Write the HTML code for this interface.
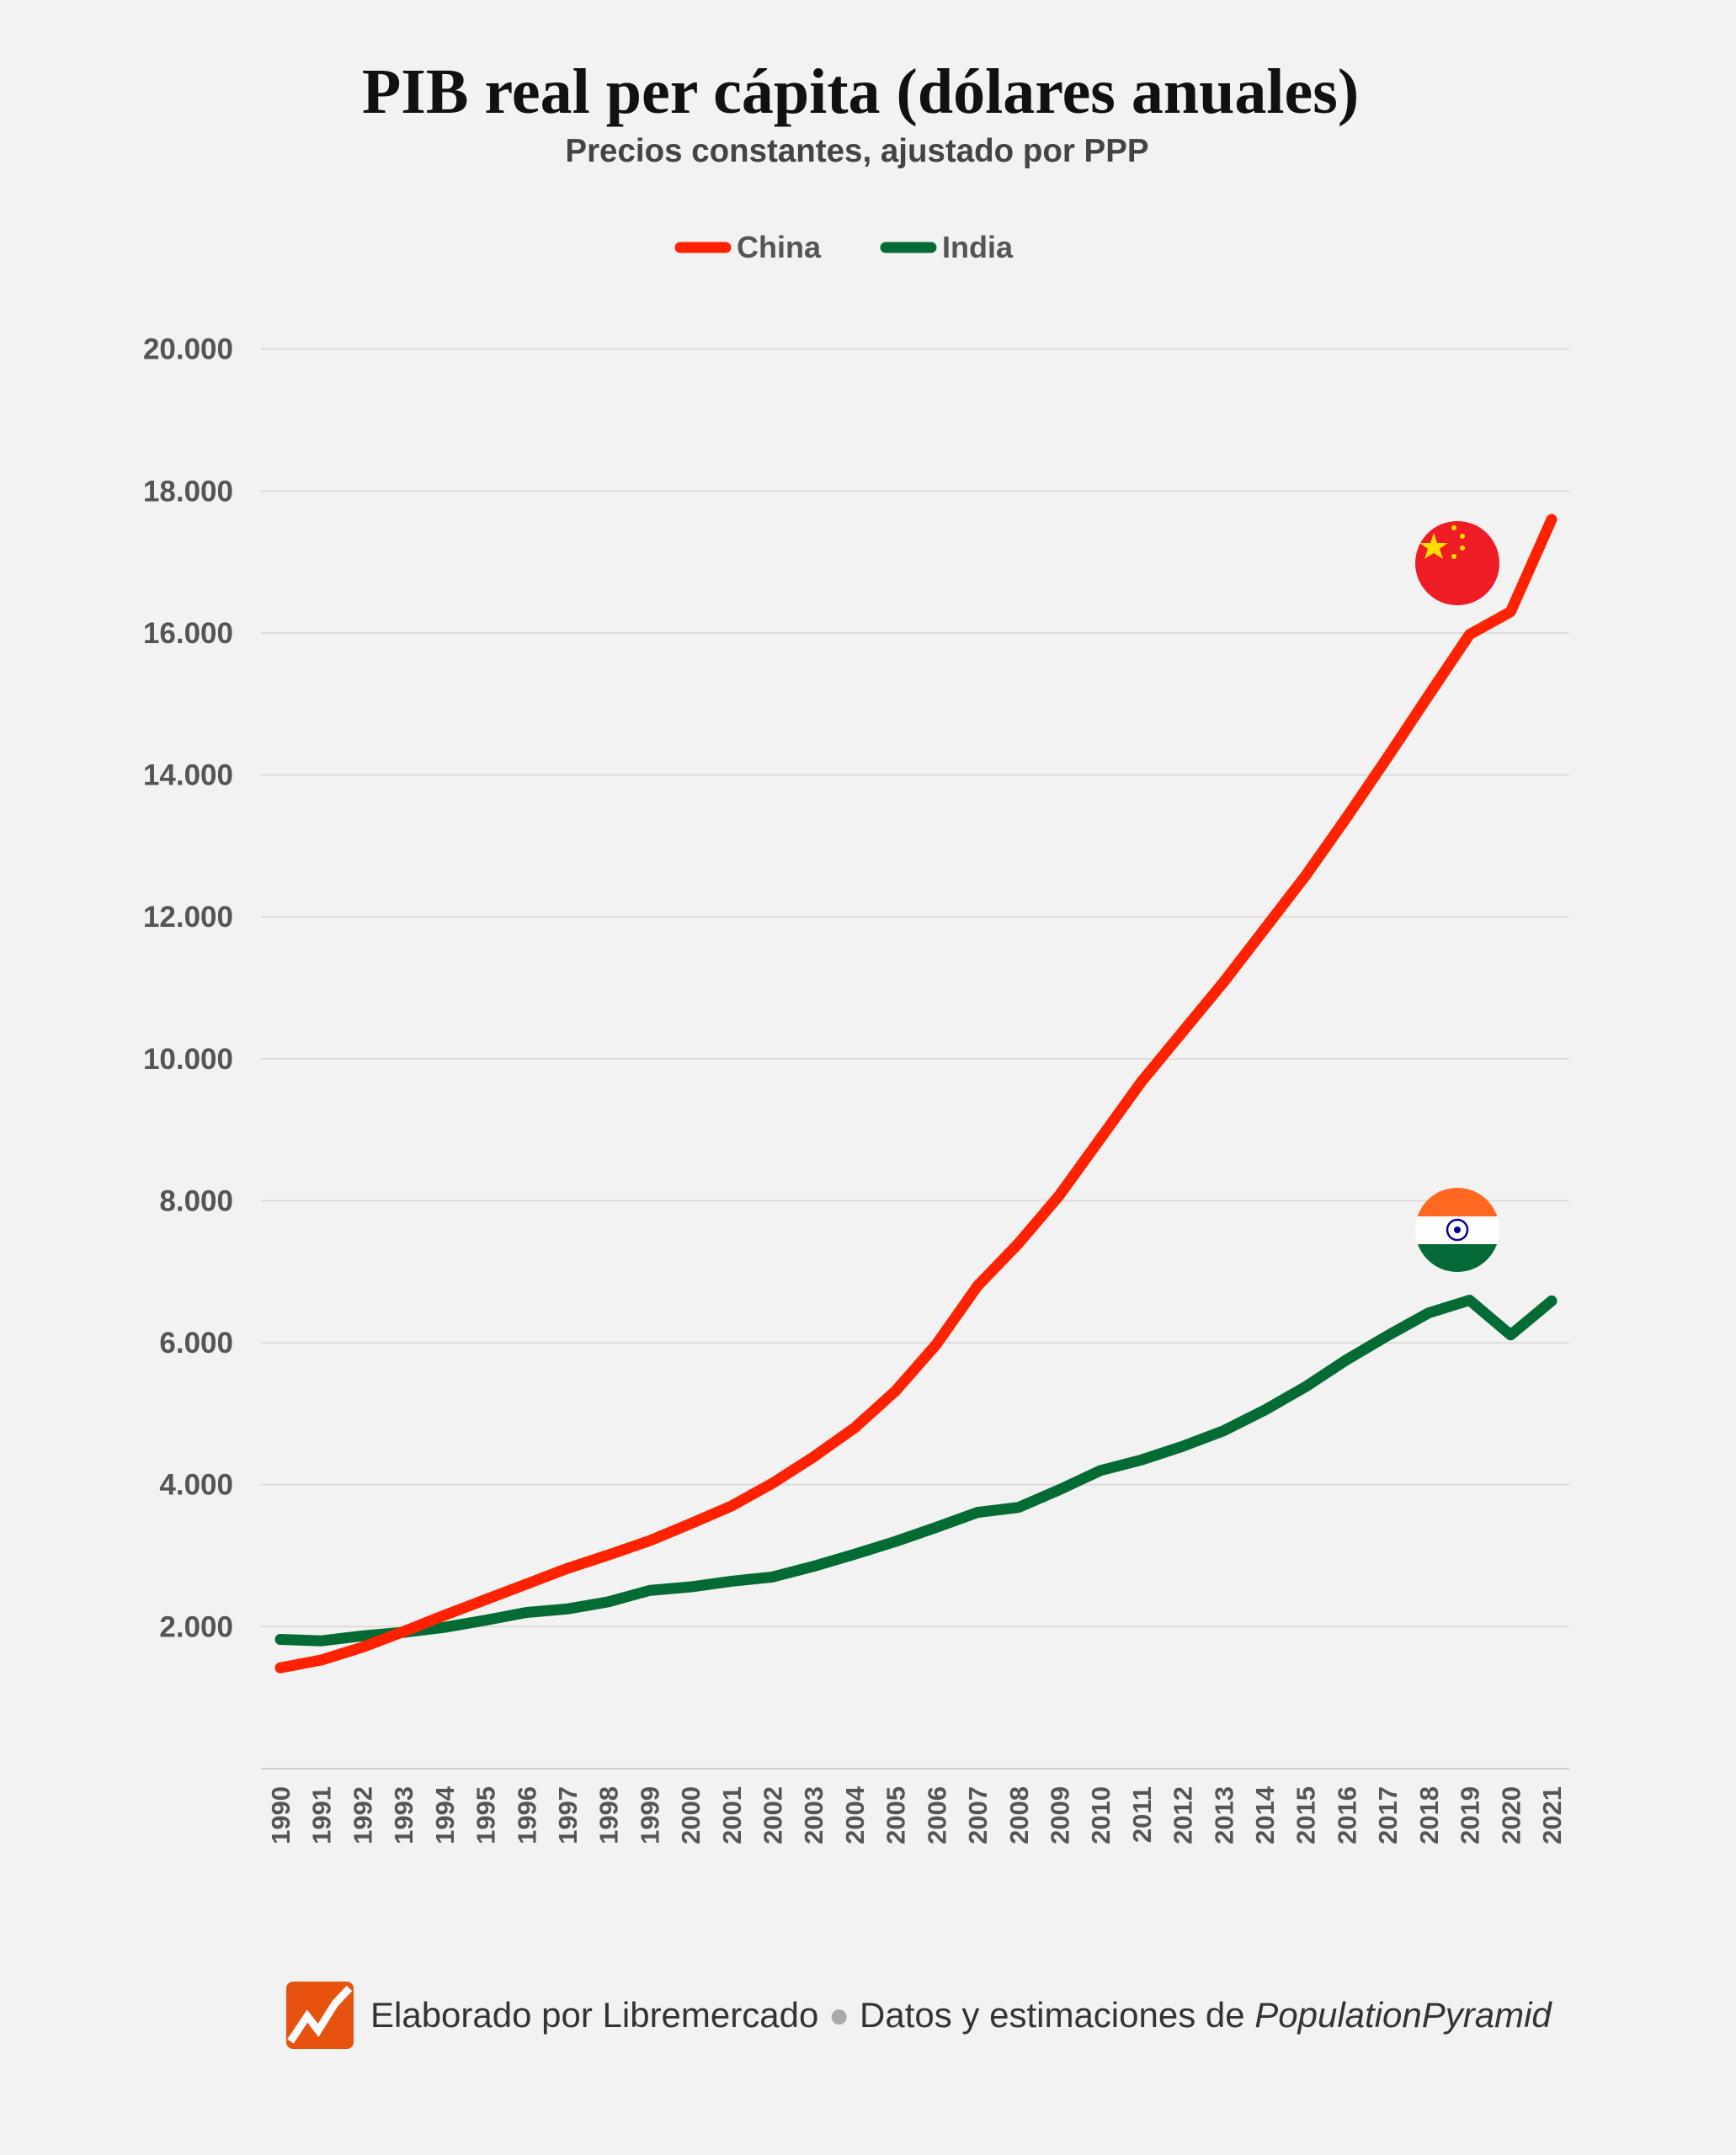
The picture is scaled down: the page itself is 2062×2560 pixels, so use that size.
<!DOCTYPE html>
<html><head><meta charset="utf-8"><style>
body{margin:0;background:#f2f2f2;}
svg{display:block}
</style></head><body>
<svg id="chart" width="2062" height="2560" viewBox="0 0 2062 2560" xmlns="http://www.w3.org/2000/svg">
<rect width="2062" height="2560" fill="#f2f2f2"/>
<text x="1022" y="134" text-anchor="middle" font-family="Liberation Serif, serif" font-weight="bold" font-size="76" fill="#111">PIB real per cápita (dólares anuales)</text>
<text x="1018" y="192" text-anchor="middle" font-family="Liberation Sans, sans-serif" font-weight="bold" font-size="38.5" fill="#444">Precios constantes, ajustado por PPP</text>
<g>
<g><line x1="808" y1="294" x2="862" y2="294" stroke="#ff2200" stroke-width="13" stroke-linecap="round"/><text x="875" y="306" font-family="Liberation Sans, sans-serif" font-weight="bold" font-size="36" fill="#555">China</text></g>
<g><line x1="1052" y1="294" x2="1106" y2="294" stroke="#056b35" stroke-width="13" stroke-linecap="round"/><text x="1119" y="306" font-family="Liberation Sans, sans-serif" font-weight="bold" font-size="36" fill="#555">India</text></g>
</g>
<g id="grid"></g><g id="ylabels"></g><g id="xlabels"></g><g id="series"></g>
<g>
<circle cx="1731" cy="669" r="50" fill="#ee1c25"/>
<polygon points="1703,633 1707,645 1720,645 1710,652 1714,664 1703,657 1692,664 1696,652 1686,645 1699,645" fill="#ffde00"/>
<circle cx="1727" cy="627" r="3" fill="#ffde00"/><circle cx="1737" cy="637" r="3" fill="#ffde00"/><circle cx="1737" cy="651" r="3" fill="#ffde00"/><circle cx="1727" cy="661" r="3" fill="#ffde00"/>
</g>
<g>
<clipPath id="ic"><circle cx="1731" cy="1461" r="50"/></clipPath>
<g clip-path="url(#ic)"><rect x="1681" y="1411" width="100" height="34" fill="#ff6820"/><rect x="1681" y="1445" width="100" height="33" fill="#fff"/><rect x="1681" y="1478" width="100" height="34" fill="#046a38"/></g>
<circle cx="1731" cy="1461" r="12" fill="none" stroke="#06038d" stroke-width="2.5"/><circle cx="1731" cy="1461" r="4" fill="#06038d"/>
</g>
<g>
<rect x="340" y="2354" width="80" height="80" rx="8" fill="#e8520f"/>
<polyline points="345,2425 365,2395 378,2412 398,2380 415,2362" fill="none" stroke="#fff" stroke-width="9"/>
<text x="440" y="2408" font-family="Liberation Sans, sans-serif" font-size="42" fill="#333">Elaborado por Libremercado <tspan fill="#aaa">●</tspan> Datos y estimaciones de <tspan font-style="italic">PopulationPyramid</tspan></text>
</g>
</svg>
<script>
const years=[1990,1991,1992,1993,1994,1995,1996,1997,1998,1999,2000,2001,2002,2003,2004,2005,2006,2007,2008,2009,2010,2011,2012,2013,2014,2015,2016,2017,2018,2019,2020,2021];
const china=[1420,1530,1710,1930,2160,2380,2600,2820,3010,3210,3450,3700,4020,4390,4800,5320,5980,6800,7400,8080,8880,9680,10380,11080,11830,12580,13400,14250,15120,15980,16300,17600];
const india=[1820,1800,1870,1920,1990,2090,2200,2250,2350,2510,2560,2640,2700,2850,3020,3200,3400,3610,3680,3930,4200,4350,4540,4760,5050,5380,5760,6100,6420,6600,6110,6590];
const yTicks=[0,2000,4000,6000,8000,10000,12000,14000,16000,18000,20000];
const yTickLabels=["","2.000","4.000","6.000","8.000","10.000","12.000","14.000","16.000","18.000","20.000"];
const NS="http://www.w3.org/2000/svg";
function xs(i){return 333+(1843-333)*(i)/(years.length-1);}
function ys(v){return 2101-(2101-414.7)*v/20000;}
function mk(t,a,p){const e=document.createElementNS(NS,t);for(const k in a)e.setAttribute(k,a[k]);p.appendChild(e);return e;}
const grid=document.getElementById('grid'),yl=document.getElementById('ylabels'),xl=document.getElementById('xlabels'),se=document.getElementById('series');
yTicks.forEach((v,i)=>{
 const l=mk('line',{x1:310,x2:1864,y1:ys(v),y2:ys(v),stroke:i==0?'#d0d0d0':'#dcdcdc','stroke-width':2},grid);
 
 
 if(yTickLabels[i]){const t=mk('text',{x:277,y:ys(v)+12,'text-anchor':'end','font-family':'Liberation Sans, sans-serif','font-weight':'bold','font-size':35,fill:'#555'},yl);t.textContent=yTickLabels[i];
 
 }
});
years.forEach((y,i)=>{
 const x=xs(i);
 const t=mk('text',{x:0,y:0,transform:`translate(${x+11},2122) rotate(-90)`,'text-anchor':'end','font-family':'Liberation Sans, sans-serif','font-weight':'bold','font-size':31,fill:'#555'},xl);
 t.textContent=y;
 
 
});
function line(data,color,name){
 const p=mk('polyline',{points:data.map((v,i)=>xs(i)+','+ys(v)).join(' '),fill:'none',stroke:color,'stroke-width':13,'stroke-linejoin':'round','stroke-linecap':'round'},se);
 
 
}
line(india,'#056b35','india-line');
line(china,'#ff2200','china-line');
</script>
</body></html>
